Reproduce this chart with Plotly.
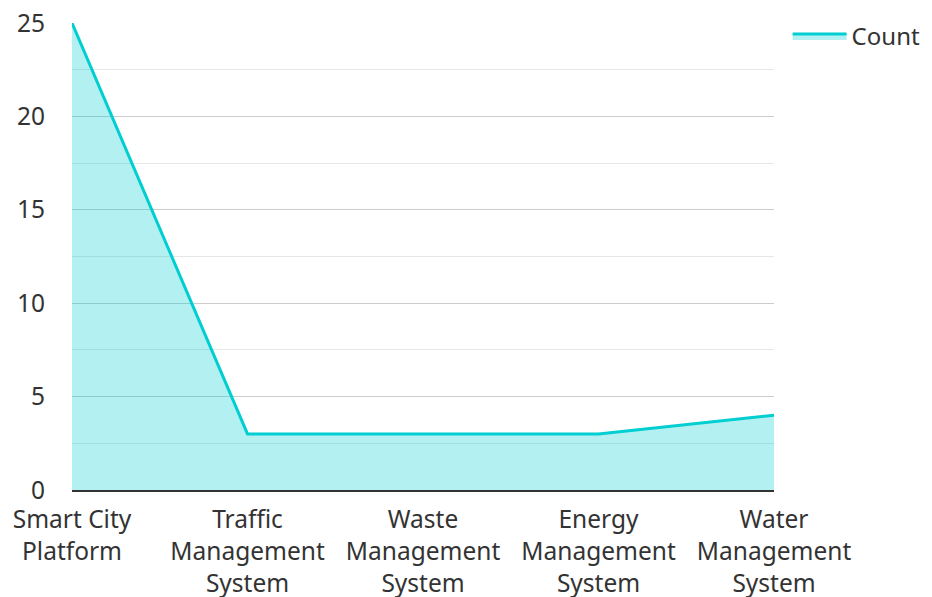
import plotly.graph_objects as go

categories = ["Smart City<br>Platform", "Traffic<br>Management<br>System", "Waste<br>Management<br>System",
              "Energy<br>Management<br>System", "Water<br>Management<br>System"]
counts = [25, 3, 3, 3, 4]

fig = go.Figure()
fig.add_trace(go.Scatter(
    x=categories, y=counts, name="Count", mode="lines",
    line=dict(color="#00CED1", width=3),
    fill="tozeroy", fillcolor="rgba(0,206,209,0.3)",
))
fig.update_layout(
    width=932, height=597,
    margin=dict(l=64, r=166, t=15, b=115),
    paper_bgcolor="white", plot_bgcolor="white",
    font=dict(family="Noto Sans", size=24.5, color="#333333"),
    showlegend=True,
    legend=dict(xref="container", yref="container", x=0.8365, y=0.99,
                xanchor="left", yanchor="top", font=dict(size=24),
                itemwidth=54, bgcolor="rgba(0,0,0,0)", borderwidth=0),
    xaxis=dict(range=[0, 4], showgrid=False, showline=True, linecolor="#333333", linewidth=2,
               ticks="", zeroline=False, fixedrange=True, automargin=False,
               ticklabelstandoff=7, ticklabeloverflow="allow"),
    yaxis=dict(range=[0, 25], dtick=5, showgrid=True, gridcolor="#cccccc", gridwidth=1,
               zeroline=False, showline=False, ticklabelstandoff=26, automargin=False,
               ticklabeloverflow="allow",
               minor=dict(dtick=2.5, showgrid=True, gridcolor="#e6e6e6", gridwidth=1)),
)
fig.write_html("out.html")
